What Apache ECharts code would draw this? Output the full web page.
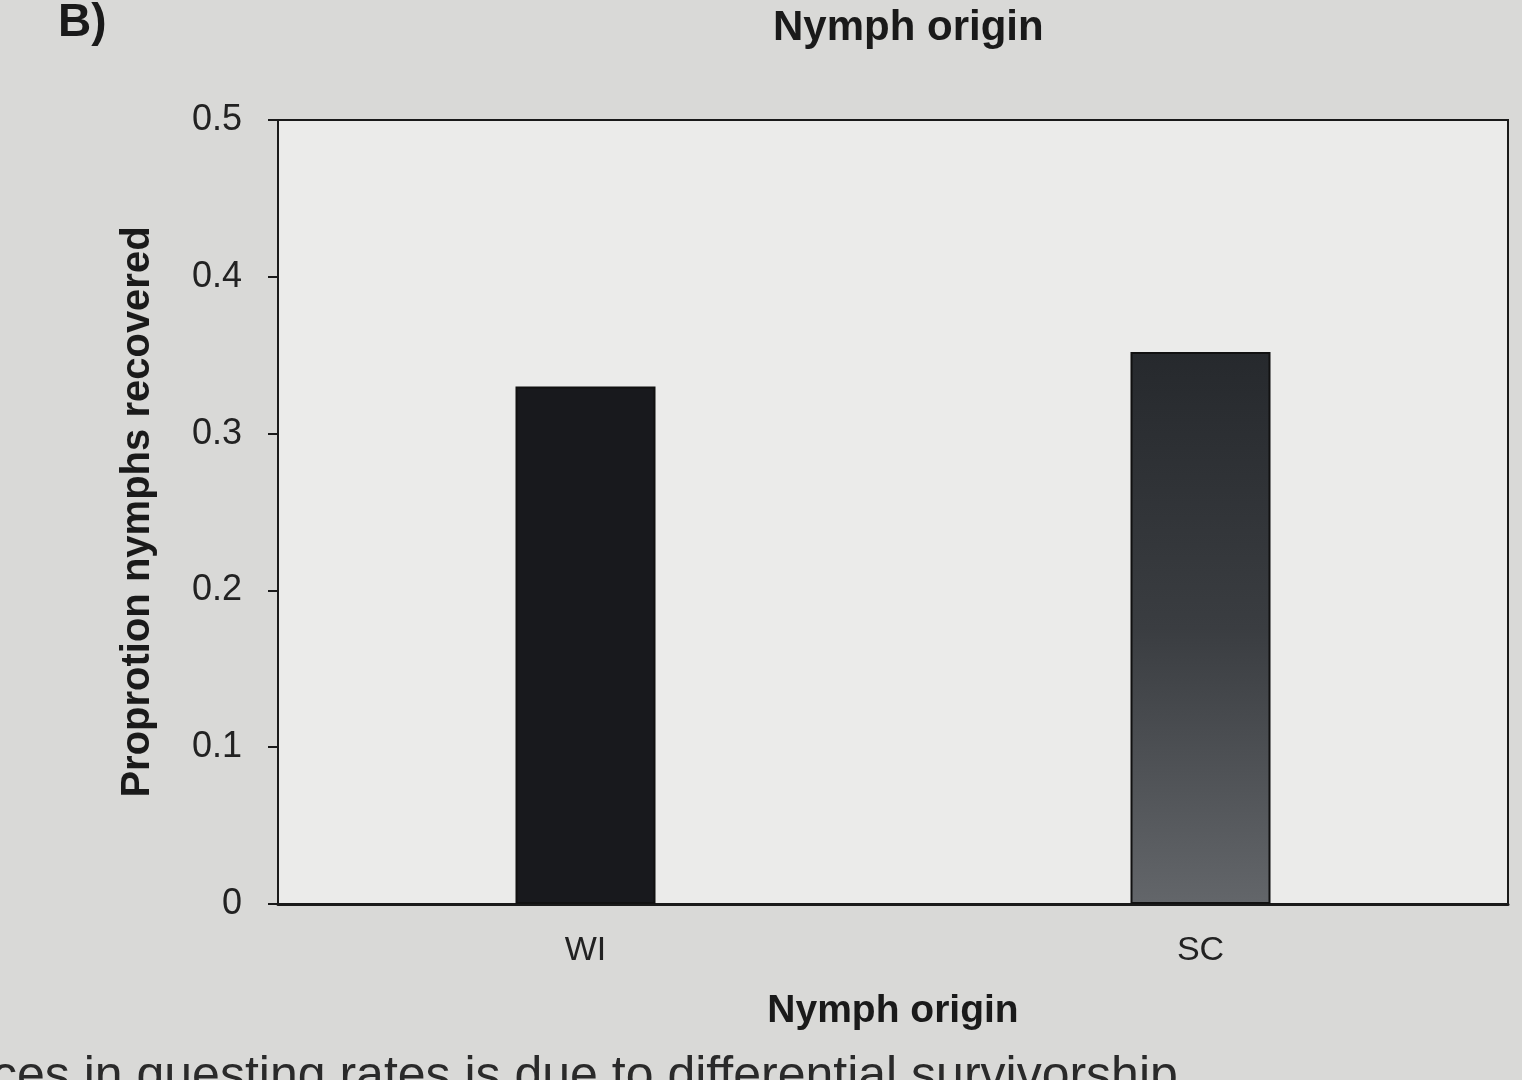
<!DOCTYPE html>
<html>
<head>
<meta charset="utf-8">
<script src="https://cdn.jsdelivr.net/npm/echarts@6/dist/echarts.min.js"></script>
<style>
  html, body { margin: 0; padding: 0; background: #d9d9d7; }
  #main { width: 1522px; height: 1080px; }
</style>
</head>
<body>
<div id="main"></div>
<script>
// data
let categories = ['WI', 'SC']
let proportions = [0.33, 0.352]
let yTicks = [0, 0.1, 0.2, 0.3, 0.4, 0.5]

var chartDom = document.getElementById('main')
var myChart = echarts.init(chartDom)
var font = 'Liberation Sans, Arial, sans-serif'

var barColors = [
    '#18191d',
    {
        type: 'linear', x: 0, y: 0, x2: 0, y2: 1,
        colorStops: [
            { offset: 0, color: '#26292d' },
            { offset: 0.5, color: '#3a3d41' },
            { offset: 1, color: '#63666a' },
        ],
    },
]

var option = {
    backgroundColor: '#d9d9d7',
    animation: false,
    title: {
        text: 'Nymph origin',
        left: 768,
        top: 2,
        textStyle: { fontFamily: font, fontSize: 42, fontWeight: 'bold', color: '#1a1a1a' },
    },
    graphic: [
        {
            type: 'text', left: 58, top: 0,
            style: { text: 'B)', font: 'bold 46px ' + font, fill: '#1a1a1a' },
        },
        {
            type: 'text', left: -8, top: 1052,
            style: { text: 'ces in questing rates is due to differential survivorship', font: '50px ' + font, fill: '#2a2a2a' },
        },
    ],
    grid: {
        left: 278,
        right: 14,
        top: 120,
        bottom: 176,
        show: true,
        backgroundColor: '#ebebea',
        borderColor: '#1a1a1a',
        borderWidth: 2,
    },
    xAxis: {
        type: 'category',
        data: categories,
        name: 'Nymph origin',
        nameLocation: 'middle',
        nameGap: 88,
        nameTextStyle: { fontFamily: font, fontSize: 39, fontWeight: 'bold', color: '#1a1a1a' },
        axisLine: { lineStyle: { color: '#1a1a1a', width: 3 } },
        axisTick: { show: false },
        axisLabel: { fontFamily: font, fontSize: 34, color: '#222', margin: 30 },
    },
    yAxis: {
        type: 'value',
        min: 0,
        max: 0.5,
        interval: 0.1,
        name: 'Proprotion nymphs recovered',
        nameLocation: 'middle',
        nameGap: 120,
        nameRotate: 90,
        nameTextStyle: { fontFamily: font, fontSize: 40, fontWeight: 'bold', color: '#1a1a1a' },
        axisLine: { show: true, lineStyle: { color: '#1a1a1a', width: 2 } },
        axisTick: { show: true, length: 10, lineStyle: { color: '#1a1a1a', width: 2 } },
        splitLine: { show: false },
        axisLabel: {
            fontFamily: font, fontSize: 36, color: '#222', margin: 36,
            formatter: function (v) {
                let t = yTicks.find(function (x) { return Math.abs(x - v) < 1e-9 })
                return t === 0 ? '0' : String(t)
            },
        },
    },
    series: [
        {
            type: 'bar',
            data: proportions.map(function (v, i) {
                return { value: v, itemStyle: { color: barColors[i], borderColor: '#111', borderWidth: 2 } }
            }),
            barWidth: 140,
        },
    ],
}
option && myChart.setOption(option)
</script>
</body>
</html>
